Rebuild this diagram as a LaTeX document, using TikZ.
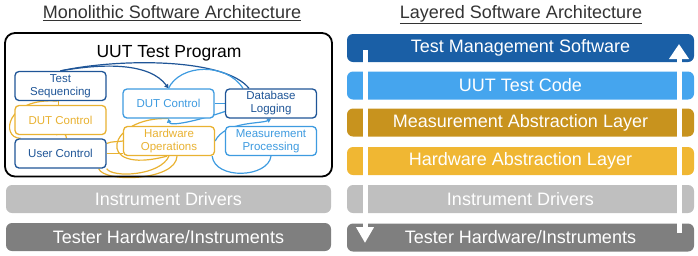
\documentclass[tikz,border=0pt]{standalone}
\usepackage{fontspec}
\setmainfont{Liberation Sans}
\usetikzlibrary{arrows.meta,backgrounds}
\definecolor{dblue}{HTML}{1F5597}
\definecolor{lblue}{HTML}{3E9BE0}
\definecolor{ygold}{HTML}{E9B232}
\definecolor{tmsblue}{HTML}{1A5FA6}
\definecolor{uutblue}{HTML}{45A5EE}
\definecolor{malgold}{HTML}{C8931E}
\definecolor{halgold}{HTML}{F0B733}
\definecolor{lgray}{HTML}{BFBFBF}
\definecolor{dgray}{HTML}{7F7F7F}
\definecolor{titlegray}{HTML}{333333}
\tikzset{
  ttl/.style={anchor=base, text=titlegray, font=\fontsize{18}{20}\selectfont, inner sep=0},
  ibox/.style={draw, fill=white, rounded corners=4pt, line width=1.3pt, minimum width=91pt, minimum height=29pt, inner sep=0, align=center, font=\fontsize{11.5}{13}\selectfont},
  dbox/.style={ibox, draw=dblue, text=dblue},
  lbox/.style={ibox, draw=lblue, text=lblue},
  ybox/.style={ibox, draw=ygold, text=ygold},
  bar/.style={rounded corners=6pt, minimum height=28pt, inner sep=0, text=white, font=\fontsize{18}{20}\selectfont},
  lbar/.style={bar, minimum width=325pt},
  rbar/.style={bar, minimum width=347pt},
  con/.style={line width=1.2pt},
  dcon/.style={con, draw=dblue},
  lcon/.style={con, draw=lblue},
  ycon/.style={con, draw=ygold},
  tip/.style={-{Triangle[length=4pt,width=4.5pt]}},
  warrow/.style={draw=white, line width=5pt}
}
\begin{document}
\begin{tikzpicture}[x=1pt,y=-1pt]
\useasboundingbox (0,0) rectangle (698,255);
% titles
\node[ttl] (lt) at (172,18.5) {\underline{Monolithic Software Architecture}};
\node[ttl] (rt) at (521,18.5) {\underline{Layered Software Architecture}};
% outer monolithic box
\draw[line width=1.8pt, rounded corners=10pt] (5,33) rectangle (332,176.5);
\node[ttl, text=black, font=\fontsize{17.5}{20}\selectfont] (uut) at (169,57) {UUT Test Program};
% inner boxes
\node[dbox] (ts) at (60.5,86) {Test\\Sequencing};
\node[ybox] (dy) at (60.5,120) {DUT Control};
\node[dbox] (uc) at (60.5,153.5) {User Control};
\node[lbox] (dbl) at (168.5,103.5) {DUT Control};
\node[dbox] (db) at (271,103.5) {Database\\Logging};
\node[ybox] (hw) at (169,141) {Hardware\\Operations};
\node[lbox] (mp) at (271,141) {Measurement\\Processing};
% connectors
\begin{pgfonlayer}{background}
\draw[dcon, tip] (ts.north) .. controls (105,63) and (150,63) .. (dbl.north);
\draw[dcon] (ts.north) .. controls (120,58) and (225,58) .. ([xshift=-22pt]db.north);
\draw[lcon] (dbl.north) .. controls (180,64) and (226,62) .. ([xshift=-28pt]db.north);
\draw[lcon] (dbl.east) -- (db.west);
\draw[lcon, tip] ([yshift=-8pt]db.west) .. controls (200,120) and (170,127) .. (dbl.south);
\draw[lcon, tip] (hw.east) .. controls (225,121) and (262,124) .. (db.south);
\draw[lcon] ([xshift=-3pt]hw.south east) .. controls (215,180) and (268,178) .. (mp.south);
\draw[ycon] (dbl.south) .. controls (108,116) and (92,176) .. ([xshift=-2pt]hw.south);
\draw[ycon] (uc.east) -- (uc.east -| hw.west);
\draw[ycon] ([yshift=10pt]uc.east) .. controls (112,141) and (118,142) .. (hw.west);
\draw[ycon] (uc.south east) .. controls (112,178) and (160,176) .. (hw.south);
\draw[ycon] ([xshift=-8pt]uc.south east) .. controls (104,183) and (176,181) .. ([xshift=8pt]hw.south);
\draw[ycon] ([xshift=-3pt]ts.south) .. controls (6,97) and (0,138) .. ([xshift=-40pt]uc.north);
\draw[ycon] ([xshift=-4pt]dy.south) .. controls (57,131) and (66,131) .. ([xshift=6pt]uc.north);
\draw[ycon] ([xshift=-2pt]ts.south) -- ([xshift=-2pt]dy.north);
\end{pgfonlayer}
% left bars
\node[lbar, fill=lgray] (lid) at (168.5,199) {Instrument Drivers};
\node[lbar, fill=dgray] (lth) at (168.5,237) {Tester Hardware/Instruments};
% right layers
\node[rbar, fill=tmsblue] (tms) at (520.5,48) {Test Management Software};
\node[rbar, fill=uutblue] (utc) at (520.5,85.5) {UUT Test Code};
\node[rbar, fill=malgold] (mal) at (520.5,122.5) {Measurement Abstraction Layer};
\node[rbar, fill=halgold] (hal) at (520.5,161) {Hardware Abstraction Layer};
\node[rbar, fill=lgray] (rid) at (520.5,199) {Instrument Drivers};
\node[rbar, fill=dgray] (rth) at (520.5,237.5) {Tester Hardware/Instruments};
% white flow arrows
\coordinate (la1) at (365,50);
\coordinate (la2) at (365,243);
\coordinate (ra1) at (679,233);
\coordinate (ra2) at (679,44);
\draw[warrow, -{Triangle[length=16pt,width=17pt]}] (la1) -- (la2);
\draw[warrow, -{Triangle[length=15pt,width=19pt]}] (ra1) -- (ra2);
\end{tikzpicture}
\end{document}
